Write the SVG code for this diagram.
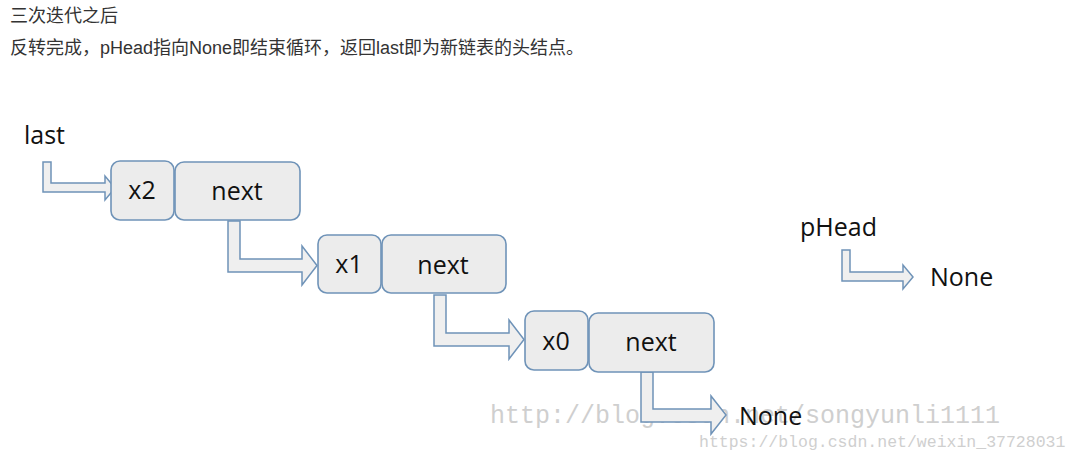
<svg xmlns="http://www.w3.org/2000/svg" width="1080" height="461" viewBox="0 0 1080 461">
<style>
.hd{font-family:"Liberation Sans","Noto Sans CJK SC",sans-serif;font-size:18px;fill:#333}
.box{fill:#ececec;stroke:#6f93b8;stroke-width:1.6}
.lb{font-family:"Open Sans","Noto Sans",sans-serif;font-size:25px;fill:#111}
.ar{fill:#efefef;stroke:#6f93b8;stroke-width:1.5;stroke-linejoin:miter}
.wm{font-family:"Liberation Mono","DejaVu Sans Mono",monospace;fill:#cfcfcf}
</style>
<rect width="1080" height="461" fill="#fff"/>
<text class="hd" x="10" y="22">三次迭代之后</text>
<text class="hd" x="10" y="54">反转完成，pHead指向None即结束循环，返回last即为新链表的头结点。</text>
<text class="wm" x="490" y="423" font-size="25">http://blog.csdn.net/songyunli1111</text>
<text class="wm" x="699" y="447" font-size="16.5">https://blog.csdn.net/weixin_37728031</text>
<text class="lb" x="24" y="144" font-size="26">last</text>
<text class="lb" x="800" y="236" font-size="26">pHead</text>
<text class="lb" x="930" y="286" font-size="26">None</text>
<g id="connectors">
<path class="ar" d="M43,162 H51 V183 H105 V176 L115,188 L105,200 V192 H43 Z"/>
<path class="ar" d="M228,221 H240 V259 H302 V246 L317,265.5 L302,285 V272 H228 Z"/>
<path class="ar" d="M434,295 H446 V333 H509 V320 L524,339.5 L509,359 V346 H434 Z"/>
<path class="ar" d="M641,372 H653 V409 H711 V396 L726,415 L711,434 V422 H641 Z"/>
<path class="ar" d="M842,250 H850 V272 H903 V265 L913,277 L903,289 V281 H842 Z"/>
</g>
<g id="n2"><rect class="box" x="111" y="161" width="63" height="59" rx="9"/><text class="lb" x="142" y="199" text-anchor="middle">x2</text></g>
<g id="n2next"><rect class="box" x="175" y="162" width="125" height="58" rx="9"/><text class="lb" x="237" y="200" text-anchor="middle">next</text></g>
<g id="n1"><rect class="box" x="318" y="235" width="63" height="58" rx="9"/><text class="lb" x="349" y="273" text-anchor="middle">x1</text></g>
<g id="n1next"><rect class="box" x="382" y="235" width="124" height="58" rx="9"/><text class="lb" x="443" y="274" text-anchor="middle">next</text></g>
<g id="n0"><rect class="box" x="525" y="311" width="63" height="59" rx="9"/><text class="lb" x="556" y="350" text-anchor="middle">x0</text></g>
<g id="n0next"><rect class="box" x="589" y="313" width="125" height="59" rx="9"/><text class="lb" x="651" y="351" text-anchor="middle">next</text></g>
<text class="lb" x="739" y="425" font-size="26">None</text>
</svg>
